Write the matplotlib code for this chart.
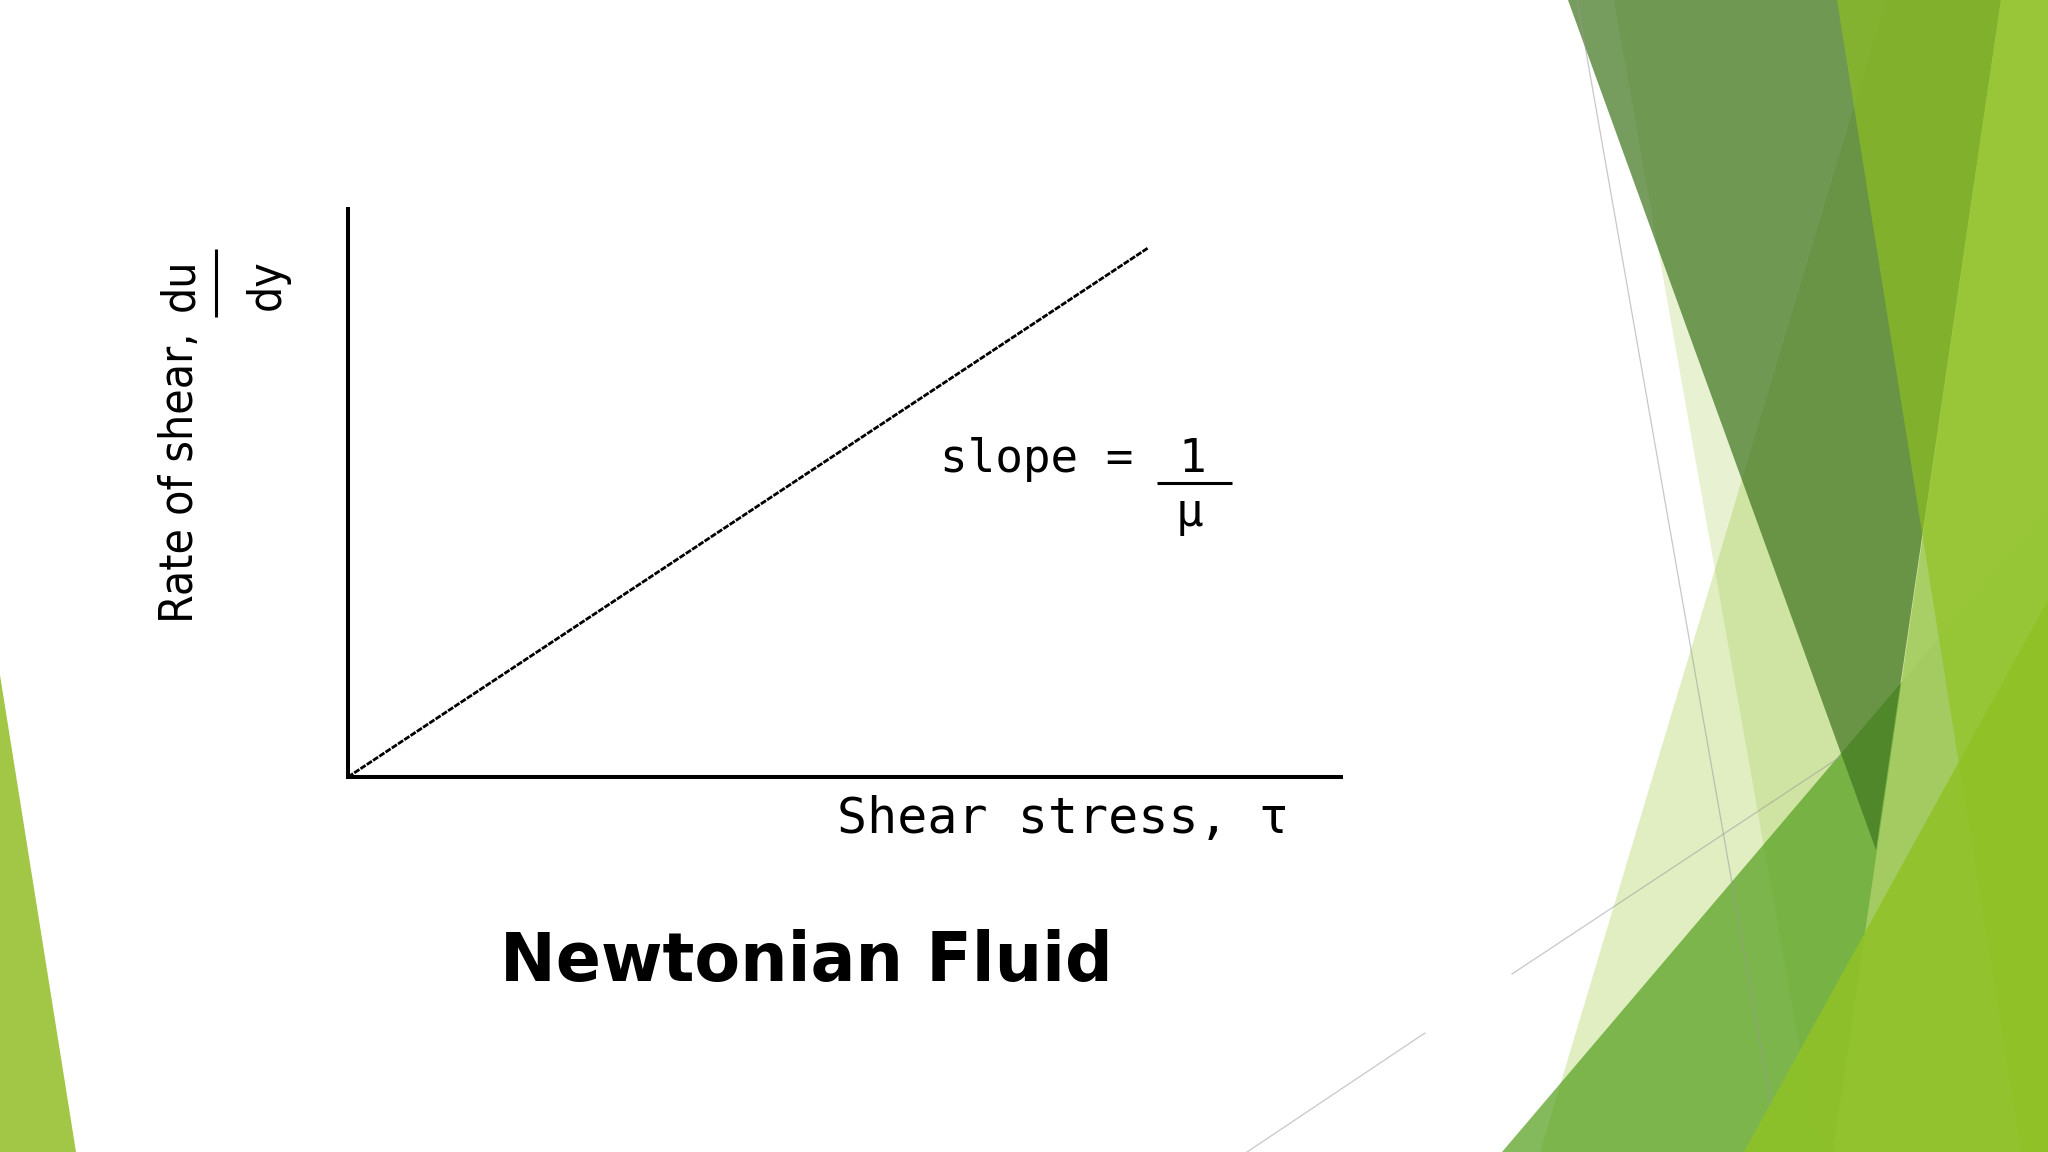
import matplotlib
matplotlib.use('Agg')
import matplotlib.pyplot as plt
from matplotlib import font_manager

# --- chart data ---
shear_stress = [0.0, 8.06]     # tau
shear_rate = [0.0, 5.33]       # du/dy
x_max, y_max = 10.0, 5.72

title = 'Newtonian Fluid'
x_label = 'Shear stress, τ'
y_label = 'Rate of shear,'
slope_label = 'slope ='

# --- slide decoration: facets in pixel coords (y down), colour, alpha ---
GREEN = '#90c226'
facets = [
    ([(0, 675), (76, 1152), (0, 1152)], '#a2c646', 1.0),
    ([(1614, 0), (2048, 0), (2048, 1152), (1818, 1152)], GREEN, 0.2),
    ([(1886, 0), (2048, 0), (2048, 1152), (1540, 1152)], GREEN, 0.28),
    ([(1502, 1152), (2048, 510), (2048, 1152)], '#59a223', 0.74),
    ([(1568, 0), (2001, 0), (1876, 850)], '#437723', 0.73),
    ([(2001, 0), (2048, 0), (2048, 1152), (1833, 1152)], '#a6cd63', 0.95),
    ([(1837, 0), (2048, 0), (2048, 1152), (2021, 1152)], '#8fc21e', 0.64),
    ([(1744, 1152), (2048, 600), (2048, 1152)], GREEN, 0.85),
]
thin_lines = [((1577, 0), (1771, 1105)),
              ((1512, 974), (1840, 757)),
              ((1247, 1152), (1425, 1033))]


def condensed_font():
    # look for any condensed sans face; fall back to Liberation Sans
    for f in font_manager.fontManager.ttflist:
        if 'condensed' in str(f.stretch) and f.style == 'normal' \
                and str(f.weight) in ('400', 'normal', 'regular', 'book') \
                and 'Mono' not in f.name and 'Serif' not in f.name:
            return font_manager.FontProperties(fname=f.fname)
    for n in ['Liberation Sans Narrow', 'Arial Narrow']:
        try:
            font_manager.findfont(font_manager.FontProperties(family=n),
                                  fallback_to_default=False)
            return font_manager.FontProperties(family=n)
        except ValueError:
            pass
    return font_manager.FontProperties(family='Liberation Sans')


W, H = 2048, 1152
fig = plt.figure(figsize=(W / 100, H / 100), dpi=100)
fig.patch.set_facecolor('white')

# background axes in pixel units
bg = fig.add_axes([0, 0, 1, 1], zorder=0)
bg.set_xlim(0, W)
bg.set_ylim(H, 0)
bg.axis('off')

for pts, col, a in facets:
    xs = [p[0] for p in pts]
    ys = [p[1] for p in pts]
    bg.fill(xs, ys, color=col, alpha=a, lw=0)
for (x0, y0), (x1, y1) in thin_lines:
    bg.plot([x0, x1], [y0, y1], color='#9a9a9a', lw=0.9, alpha=0.55)

# the chart itself
ax = fig.add_axes([348 / W, 375 / H, 993 / W, 568 / H], zorder=1)
ax.patch.set_alpha(0)
ax.plot(shear_stress, shear_rate, color='black', lw=2.0,
        ls=(0, (2.2, 0.5)), solid_capstyle='butt')
ax.set_xlim(0, x_max)
ax.set_ylim(0, y_max)
ax.set_xticks([])
ax.set_yticks([])
for s in ['top', 'right']:
    ax.spines[s].set_visible(False)
for s in ['left', 'bottom']:
    ax.spines[s].set_linewidth(2.9)
    ax.spines[s].set_color('black')
    ax.spines[s].set_capstyle('projecting')

mono = 'DejaVu Sans Mono'

# slope = 1/mu
bg.text(940, 472, slope_label, fontsize=33, family=mono, ha='left', va='baseline')
bg.text(1192, 472, '1', fontsize=33, family=mono, ha='center', va='baseline')
bg.plot([1157, 1232], [483, 483], color='black', lw=2.2, solid_capstyle='butt')
bg.text(1189, 526, 'μ', fontsize=33, family=mono, ha='center', va='baseline')

# x label and title
bg.text(837, 833, x_label, fontsize=36, family=mono, ha='left', va='baseline')
bg.text(806, 981, title, fontsize=48, family='DejaVu Sans', weight='bold',
        ha='center', va='baseline')

# y label, rotated, with du/dy stacked
fp = condensed_font()
yl = bg.text(193, 623, y_label, rotation=90, rotation_mode='anchor',
             ha='left', va='baseline', fontproperties=fp)
yl.set_fontsize(40)
r = fig.canvas.get_renderer()
size = 40 * 290 / yl.get_window_extent(r).height
yl.set_fontsize(size)
em = size / 0.72
du = bg.text(193, 285, 'du', rotation=90, rotation_mode='anchor', ha='center',
             va='baseline', fontproperties=fp)
du.set_fontsize(size)
bg.plot([216, 216], [249, 317], color='black', lw=2.2, solid_capstyle='butt')
dy = bg.text(268 + 0.26 * em, 285, 'dy', rotation=90, rotation_mode='anchor',
             ha='center', va='baseline', fontproperties=fp)
dy.set_fontsize(size)

fig.savefig('out.png', dpi=100)
